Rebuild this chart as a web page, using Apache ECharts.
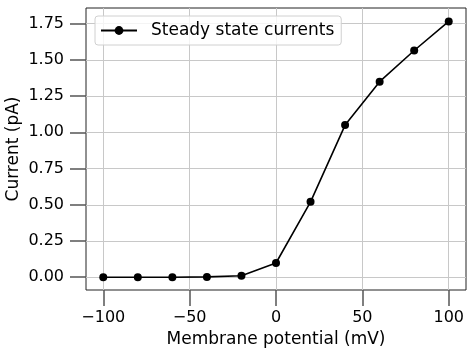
<!DOCTYPE html>
<html>
<head>
<meta charset="utf-8">
<script src="https://cdn.jsdelivr.net/npm/echarts@6/dist/echarts.min.js"></script>
<style>html,body{margin:0;padding:0;background:#fff;}#c{width:474px;height:354px;}</style>
</head>
<body>
<div id="c"></div>
<script>
var potentials = [-100, -80, -60, -40, -20, 0, 20, 40, 60, 80, 100];
var currents = [0.0, 0.0, 0.0, 0.002, 0.010, 0.098, 0.52, 1.05, 1.35, 1.565, 1.766];
var xTicks = [-100, -50, 0, 50, 100];
var yTicks = [0, 0.25, 0.5, 0.75, 1.0, 1.25, 1.5, 1.75];
var seriesName = 'Steady state currents';

var font = 'DejaVu Sans';
var chart = echarts.init(document.getElementById('c'), null, {renderer: 'canvas'});
chart.setOption({
  animation: false,
  backgroundColor: '#fff',
  grid: {left: 86, right: 8, top: 8, bottom: 64, show: true, borderColor: '#222', borderWidth: 1,
    backgroundColor: 'transparent', containLabel: false, outerBoundsMode: 'none'},
  legend: {
    left: 95, top: 16,
    data: [seriesName],
    itemWidth: 36, itemHeight: 11,
    padding: [6, 7, 6, 5],
    borderColor: '#d0d0d0', borderWidth: 1, borderRadius: 3,
    backgroundColor: 'rgba(255,255,255,0.8)',
    textStyle: {fontFamily: font, fontSize: 17, color: '#000', padding: [0, 0, 0, 9]}
  },
  xAxis: {
    type: 'value', min: -110, max: 110,
    name: 'Membrane potential (mV)', nameLocation: 'middle', nameGap: 41, nameMoveOverlap: false,
    nameTextStyle: {fontFamily: font, fontSize: 17, color: '#000'},
    axisLine: {show: false, onZero: false},
    axisTick: {show: true, length: 16, lineStyle: {color: '#555', width: 1.5}, customValues: xTicks},
    axisLabel: {fontFamily: font, fontSize: 16, color: '#000', margin: 20, customValues: xTicks,
      formatter: function (v) { return v < 0 ? '\u2212' + Math.abs(v) : String(v); }},
    splitLine: {show: true, lineStyle: {color: '#c8c8c8', width: 1}}
  },
  yAxis: {
    type: 'value', min: -0.0885, max: 1.8585,
    name: 'Current (pA)', nameLocation: 'middle', nameGap: 64, nameMoveOverlap: false,
    nameTextStyle: {fontFamily: font, fontSize: 17, color: '#000'},
    axisLine: {show: false, onZero: false},
    axisTick: {show: true, length: 16, lineStyle: {color: '#555', width: 1.5}, customValues: yTicks},
    axisLabel: {fontFamily: font, fontSize: 16, color: '#000', margin: 22, customValues: yTicks,
      formatter: function (v) { return v.toFixed(2); }},
    splitLine: {show: true, lineStyle: {color: '#c8c8c8', width: 1}}
  },
  series: [{
    name: seriesName, type: 'line',
    data: potentials.map(function (p, i) { return [p, currents[i]]; }),
    symbol: 'circle', symbolSize: 8,
    lineStyle: {color: '#000', width: 1.6},
    itemStyle: {color: '#000'}
  }]
});
</script>
</body>
</html>
